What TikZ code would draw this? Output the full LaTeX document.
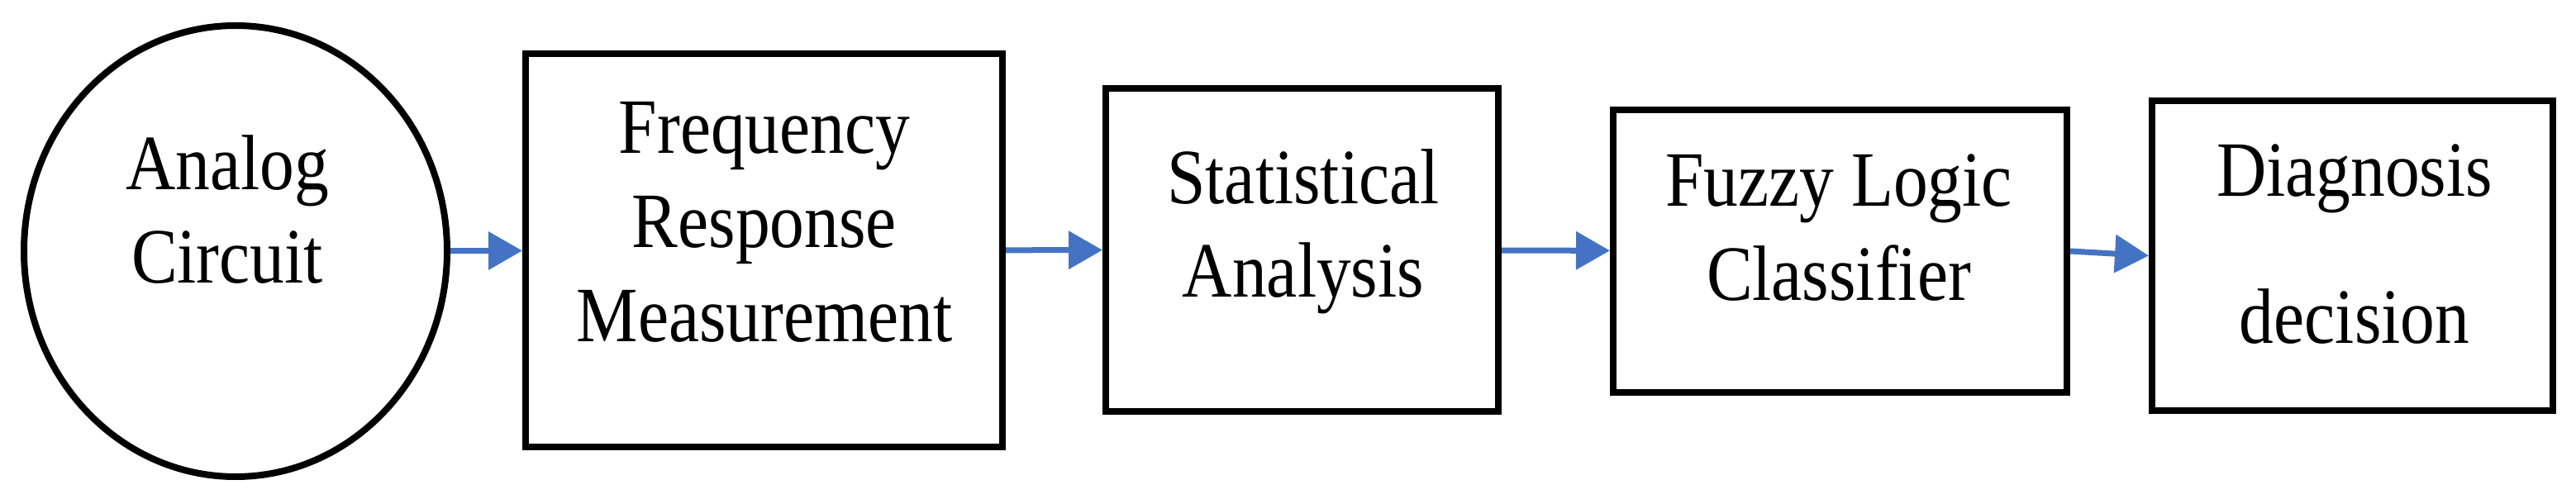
\documentclass[tikz,border=0pt]{standalone}
\usepackage{fontspec}
\setmainfont{Liberation Serif}[FakeStretch=0.88]
\usepackage{tikz}
\usetikzlibrary{arrows.meta,shapes.geometric}
\definecolor{flowblue}{rgb}{0.27,0.45,0.77}

\begin{document}
\begin{tikzpicture}[line cap=round,line join=miter,>={Triangle[length=4.1mm,width=4.5mm]},x=1cm,y=1cm,
  block/.style={draw,line width=0.08cm,inner sep=0pt},
  flow/.style={->,color=flowblue,line width=0.07cm,line cap=butt},
  lbl/.style={align=center,anchor=base,inner sep=0pt,font=\fontsize{27}{32.4}\selectfont}]
\useasboundingbox (0,0) rectangle (31.17,6.03);
% blocks
\node[block,ellipse,minimum width=5.12cm,minimum height=5.46cm] (circ) at (2.85,2.99) {};
\node[block,minimum width=5.77cm,minimum height=4.76cm] (freq) at (9.245,3.00) {};
\node[block,minimum width=4.75cm,minimum height=3.91cm] (stat) at (15.755,3.005) {};
\node[block,minimum width=5.49cm,minimum height=3.42cm] (fuzzy) at (22.265,2.99) {};
\node[block,minimum width=4.85cm,minimum height=3.75cm] (diag) at (28.465,2.935) {};
% texts (anchored on the last line)
\node[lbl] (circ-t) at (2.75,2.60) {Analog\\Circuit};
\node[lbl] (freq-t) at (9.25,1.90) {Frequency\\Response\\Measurement};
\node[lbl] (stat-t) at (15.77,2.43) {Statistical\\Analysis};
\node[lbl] (fuzzy-t) at (22.25,2.40) {Fuzzy Logic\\Classifier};
\node[lbl] (diag-t) at (28.49,1.88) {Diagnosis\\[0.64cm]decision};
% arrows
\draw [flow] (circ) -- (freq);
\draw [flow] (freq) -- (stat);
\draw [flow] (stat) -- (fuzzy);
\draw [flow] (fuzzy.east) -- (diag.west);
\end{tikzpicture}
\end{document}
